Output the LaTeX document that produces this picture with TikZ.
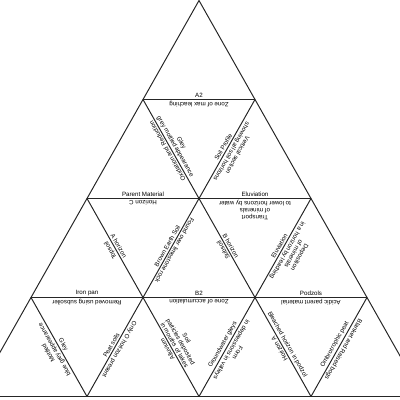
\documentclass[tikz,border=0pt]{standalone}
\usepackage{fontspec}
\setmainfont{Liberation Sans}

\begin{document}
\begin{tikzpicture}[x=.25mm, y=-.25mm,
        lbl/.style={midway, sloped, allow upside down, anchor=south, align=center,
                    inner sep=1.2pt, font=\fontsize{4.4}{4.9}\selectfont},
        tri/.style={draw=black!85, line width=.7pt, line join=round}]
        \useasboundingbox (0,0) rectangle (400,400);
        \clip (0,0) rectangle (400,400);

        % corners of the small triangles, row by row
        \foreach \k in {0,...,4}
            \foreach \i in {0,...,\k}
                \coordinate (v\k\i) at ({199+56*(2*\i-\k)}, {99*\k+.5});

        \foreach \k in {0,...,3}
            \foreach \i in {0,...,\k} {
                \pgfmathtruncatemacro\nk{\k+1}
                \pgfmathtruncatemacro\ni{\i+1}
                \draw[tri] (v\k\i) -- (v\nk\i) -- (v\nk\ni) -- cycle;
            }

        % top
        \path (v10) -- node[lbl] (a2) {A2} (v11);

        % second row
        \path (v20) -- node[lbl] (parent) {Parent Material} (v21);
        \path (v21) -- node[lbl] (oxid) {Oxidation and Reduction} (v10);
        \path (v10) -- node[lbl] (gley1) {Gley\\grey mottled appearance} (v21);
        \path (v21) -- node[lbl] (profile) {Soil Profile} (v11);
        \path (v11) -- node[lbl] (leach) {Zone of max leaching} (v10);
        \path (v11) -- node[lbl] (vert) {Vertical section\\showing all soil horizons} (v21);
        \path (v21) -- node[lbl] (eluv1) {Eluviation} (v22);

        % third row
        \path (v30) -- node[lbl] (ironpan) {Iron pan} (v31);
        \path (v31) -- node[lbl] (topsoil) {Topsoil} (v20);
        \path (v20) -- node[lbl] (ahor) {A horizon} (v31);
        \path (v31) -- node[lbl] (brown) {Brown Earth Soil} (v21);
        \path (v21) -- node[lbl] (horc) {Horizon C} (v20);
        \path (v21) -- node[lbl] (lime) {Found over limestone rock} (v31);
        \path (v31) -- node[lbl] (b2) {B2} (v32);
        \path (v32) -- node[lbl] (subsoil) {Subsoil} (v21);
        \path (v21) -- node[lbl] (bhor) {B horizon} (v32);
        \path (v32) -- node[lbl] (eluv2) {Eluviation} (v22);
        \path (v22) -- node[lbl] (transp) {Transport\\of minerals\\to lower horizons by water} (v21);
        \path (v22) -- node[lbl] (depos) {Deposition\\of minerals\\in a horizon by leaching} (v32);
        \path (v32) -- node[lbl] (podzols) {Podzols} (v33);

        % bottom row
        \path (v41) -- node[lbl] (mottled) {Mottled\\blue grey appearance} (v30);
        \path (v30) -- node[lbl] (gley2) {Gley} (v41);
        \path (v41) -- node[lbl] (peat) {Peat soils} (v31);
        \path (v31) -- node[lbl] (subsoiler) {Removed using subsoiler} (v30);
        \path (v31) -- node[lbl] (ohor) {Only O horizon present} (v41);
        \path (v42) -- node[lbl] (alluv) {Alluvium} (v31);
        \path (v31) -- node[lbl] (partic) {Soil\\particles deposited\\in mouths of lakes} (v42);
        \path (v42) -- node[lbl] (ground) {Groundwater gleys} (v32);
        \path (v32) -- node[lbl] (accum) {Zone of accumulation} (v31);
        \path (v32) -- node[lbl] (form) {Form\\in depressions in valleys} (v42);
        \path (v43) -- node[lbl] (hora) {Horizon A} (v32);
        \path (v32) -- node[lbl] (bleach) {Bleached horizon in podzol} (v43);
        \path (v43) -- node[lbl] (ombro) {Ombrotrophic peat} (v33);
        \path (v33) -- node[lbl] (acidic) {Acidic parent material} (v32);
        \path (v33) -- node[lbl] (bogs) {Blanket and Raised bogs} (v43);
\end{tikzpicture}
\end{document}
